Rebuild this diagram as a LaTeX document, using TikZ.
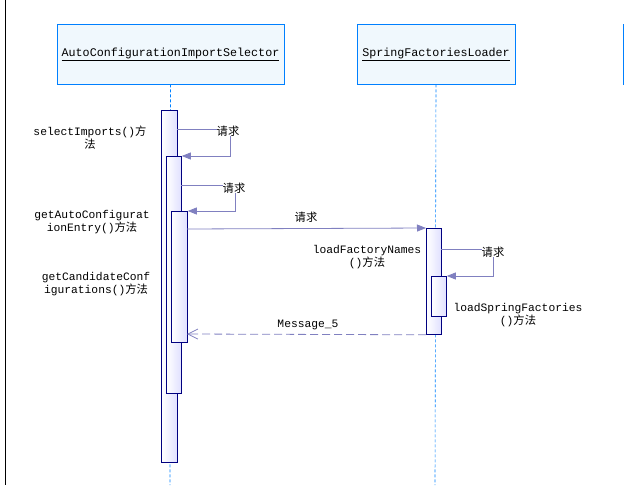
\documentclass[tikz,border=0pt]{standalone}
\usepackage{fontspec}
\setmonofont{Liberation Mono}
\newfontfamily\cjk{Noto Sans CJK SC}
\usetikzlibrary{arrows.meta}
\newcommand{\zh}[1]{{\cjk #1}}
\definecolor{hdr}{RGB}{0,128,255}
\definecolor{hdrfill}{RGB}{240,248,253}
\definecolor{act}{RGB}{0,0,128}
\definecolor{msg}{RGB}{128,128,192}
\begin{document}
\begin{tikzpicture}[x=1pt,y=-1pt,font=\ttfamily\fontsize{11.7}{12}\selectfont,
 head/.style={draw=hdr,fill=hdrfill,line width=0.8pt,minimum height=60pt,inner sep=0},
 life/.style={hdr,dash pattern=on 3pt off 2pt,line width=0.6pt},
 actv/.style={draw=act,line width=0.8pt,left color=white,right color=blue!12},
 call/.style={msg,line width=0.8pt,-{Triangle[length=9pt,width=7pt]}},
 ret/.style={msg,line width=0.8pt,dash pattern=on 8pt off 4pt,-{Straight Barb[length=10pt,width=10pt]}},
 lbl/.style={align=center,inner sep=0,font=\ttfamily\fontsize{11.3}{13}\selectfont}]
\useasboundingbox (0,0) rectangle (624,485);
\draw[black,line width=0.8pt] (5,0) -- (5,485);
\node[head,minimum width=227pt] (h1) at (170.5,54) {\underline{AutoConfigurationImportSelector}};
\node[head,minimum width=158pt] (h2) at (436,54) {\underline{SpringFactoriesLoader}};
\node[head,minimum width=20pt,anchor=west] (h3) at (623,54) {};
\coordinate (l1e) at (170,485);
\coordinate (l2e) at (435,485);
\draw[life] (h1.south) -- (l1e);
\draw[life] (h2.south) -- (l2e);
\node[actv,minimum width=16pt,minimum height=352pt,inner sep=0,anchor=north west] (a1) at (161,110) {};
\node[actv,minimum width=15pt,minimum height=237pt,inner sep=0,anchor=north west] (a2) at (166,156) {};
\node[actv,minimum width=16pt,minimum height=131pt,inner sep=0,anchor=north west] (a3) at (171,211) {};
\node[actv,minimum width=15pt,minimum height=106pt,inner sep=0,anchor=north west] (b1) at (426,228) {};
\node[actv,minimum width=15pt,minimum height=40pt,inner sep=0,anchor=north west] (b2) at (431,276) {};
% self call 1
\coordinate (s1) at (177,129);
\draw[call] (s1) -- (230,129) -- (230,156) -- (a2.north east);
\node[lbl,fill=white] (t1) at (228,131) {\zh{请求}};
% self call 2
\coordinate (s2) at (181,185);
\draw[call] (s2) -- (235,185) -- (235,211) -- (a3.north east);
\node[lbl,fill=white] (t2) at (234,188) {\zh{请求}};
% call
\coordinate (c1) at (187,229);
\draw[call] (c1) -- (b1.north west);
\node[lbl] (t3) at (306,217) {\zh{请求}};
% self call 3
\coordinate (s3) at (441,249);
\draw[call] (s3) -- (493,249) -- (493,276) -- (b2.north east);
\node[lbl,fill=white] (t4) at (493,252) {\zh{请求}};
% return
\coordinate (r1) at (187,334);
\draw[ret] (b1.south west) -- (r1);
\node[lbl] (t5) at (308,325) {Message\_5};
% labels
\node[lbl] (m1) at (90,138) {selectImports()\zh{方}\\\zh{法}};
\node[lbl] (m2) at (92,222) {getAutoConfigurat\\ionEntry()\zh{方法}};
\node[lbl] (m3) at (96,284) {getCandidateConf\\igurations()\zh{方法}};
\node[lbl] (m4) at (367,257) {loadFactoryNames\\()\zh{方法}};
\node[lbl] (m5) at (518,315) {loadSpringFactories\\()\zh{方法}};
\end{tikzpicture}
\end{document}
